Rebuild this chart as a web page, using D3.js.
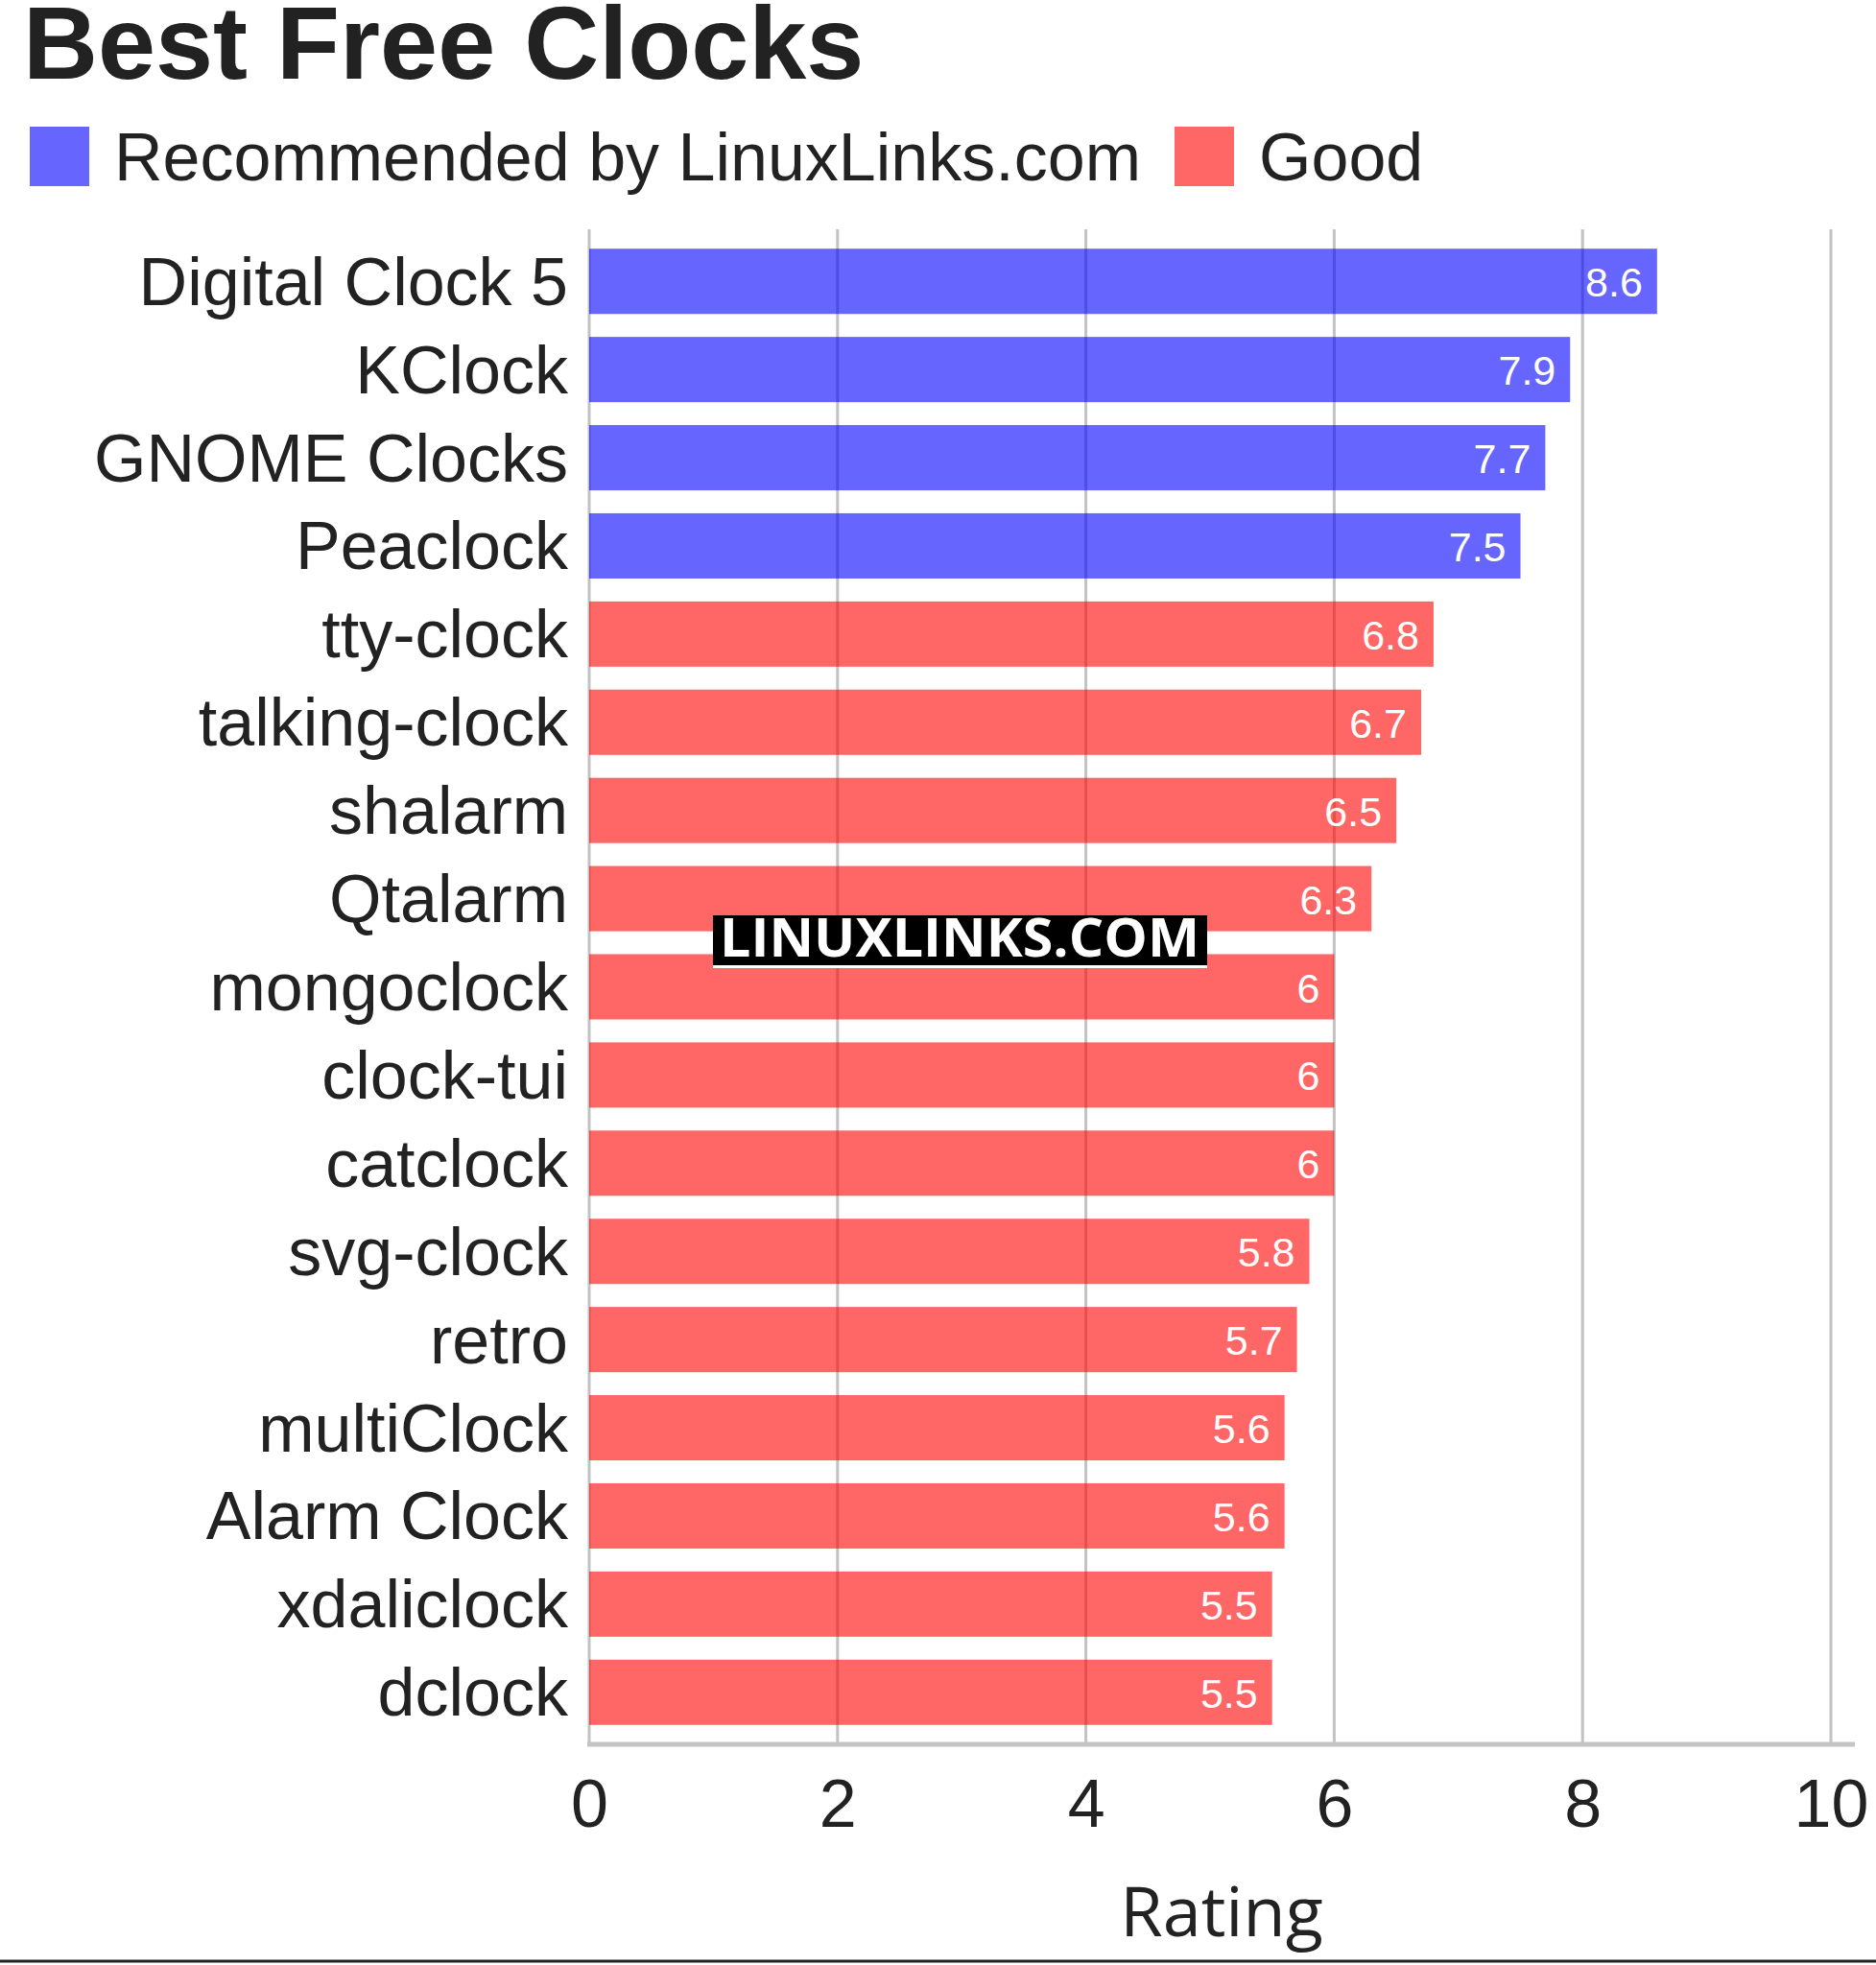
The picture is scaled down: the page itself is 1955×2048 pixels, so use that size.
<!DOCTYPE html>
<html><head><meta charset="utf-8">
<script src="https://cdn.jsdelivr.net/npm/d3@7"></script>
<style>
html,body{margin:0;padding:0;background:#fff;}
svg{display:block;}
</style></head>
<body>
<script>
const categories = ["Digital Clock 5","KClock","GNOME Clocks","Peaclock","tty-clock","talking-clock","shalarm","Qtalarm","mongoclock","clock-tui","catclock","svg-clock","retro","multiClock","Alarm Clock","xdaliclock","dclock"];
const ratings = [8.6,7.9,7.7,7.5,6.8,6.7,6.5,6.3,6,6,6,5.8,5.7,5.6,5.6,5.5,5.5];
const groups = ["Recommended","Recommended","Recommended","Recommended","Good","Good","Good","Good","Good","Good","Good","Good","Good","Good","Good","Good","Good"];
const seriesNames = ["Recommended by LinuxLinks.com","Good"];
const seriesKeys = ["Recommended","Good"];
const seriesColors = ["#6666ff","#ff6666"];
const barColors = ["rgba(0,0,255,0.6)","rgba(255,0,0,0.6)"];
const xTicks = [0,2,4,6,8,10];
const title = "Best Free Clocks";
const xTitle = "Rating";

const W = 1955, H = 2048;
const svg = d3.select("body").append("svg").attr("width", W).attr("height", H);
const font = "'Liberation Sans', Arial, sans-serif";

svg.append("rect").attr("width", W).attr("height", H).attr("fill", "#fff");

// title
svg.append("text").attr("x", 24).attr("y", 82)
  .attr("font-family", font).attr("font-weight", "bold").attr("font-size", 108)
  .attr("fill", "#222").text(title);

// legend
const color = d3.scaleOrdinal().domain(seriesKeys).range(seriesColors);
const barColor = d3.scaleOrdinal().domain(seriesKeys).range(barColors);
const legendX = [31, 1224];
seriesKeys.forEach((k, i) => {
  svg.append("rect").attr("x", legendX[i]).attr("y", 132).attr("width", 62).attr("height", 62)
    .attr("fill", color(k));
  svg.append("text").attr("x", legendX[i] + 88).attr("y", 188)
    .attr("font-family", font).attr("font-size", 70).attr("fill", "#222").text(seriesNames[i]);
});

const x = d3.scaleLinear().domain([0, 10]).range([614, 1908]);
const y = d3.scaleBand().domain(categories).range([239, 1818]).paddingInner(0.26).paddingOuter(0.22);

// gridlines
svg.append("g").selectAll("line").data(xTicks).join("line")
  .attr("x1", d => x(d)).attr("x2", d => x(d)).attr("y1", 239).attr("y2", 1818)
  .attr("stroke", "#c2c2c2").attr("stroke-width", 3);

// bars (semi-transparent so gridlines show through)
svg.append("g").selectAll("rect").data(categories).join("rect")
  .attr("x", x(0)).attr("y", d => y(d))
  .attr("width", (d, i) => x(ratings[i]) - x(0)).attr("height", y.bandwidth())
  .attr("fill", (d, i) => barColor(groups[i]));

// axis baseline
svg.append("line").attr("x1", 612).attr("x2", 1933).attr("y1", 1818).attr("y2", 1818)
  .attr("stroke", "#c4c4c4").attr("stroke-width", 5);

// x axis tick labels via d3 axis
const xAxis = svg.append("g").attr("transform", "translate(0,1818)")
  .call(d3.axisBottom(x).tickValues(xTicks).tickSize(0).tickPadding(86).tickFormat(d3.format("d")));
xAxis.select(".domain").remove();
xAxis.selectAll("text").attr("font-family", font).attr("font-size", 70).attr("fill", "#222").attr("dy", 0);

// y labels via d3 axis
const yAxis = svg.append("g").attr("transform", "translate(614,0)")
  .call(d3.axisLeft(y).tickSize(0).tickPadding(22));
yAxis.select(".domain").remove();
yAxis.selectAll("text").attr("font-family", font).attr("font-size", 70).attr("fill", "#222").attr("dy", "0.35em");

// value labels
svg.append("g").selectAll("text").data(categories).join("text")
  .attr("x", (d, i) => x(ratings[i]) - 15)
  .attr("y", d => y(d) + y.bandwidth() / 2 + 16)
  .attr("text-anchor", "end").attr("font-family", font).attr("font-size", 43).attr("fill", "#fff")
  .text((d, i) => ratings[i]);

// axis title
svg.append("text").attr("x", 1273).attr("y", 2018).attr("text-anchor", "middle")
  .attr("font-family", "'Open Sans', 'Noto Sans', sans-serif").attr("font-size", 72).attr("fill", "#222")
  .text(xTitle);

// bottom border line
svg.append("line").attr("x1", 0).attr("x2", W).attr("y1", 2044).attr("y2", 2044)
  .attr("stroke", "#222").attr("stroke-width", 3);

// watermark
const wm = svg.append("g");
wm.append("rect").attr("x", 743).attr("y", 954).attr("width", 515).attr("height", 53).attr("fill", "#000");
wm.append("rect").attr("x", 743).attr("y", 1006).attr("width", 515).attr("height", 3).attr("fill", "#fff");
wm.append("text").attr("x", 1000).attr("y", 997).attr("text-anchor", "middle")
  .attr("font-family", "'Open Sans', 'Noto Sans', sans-serif").attr("font-weight", "bold").attr("font-size", 56)
  .attr("fill", "#fff").attr("textLength", 500).attr("lengthAdjust", "spacingAndGlyphs")
  .text("LINUXLINKS.COM");
</script>
</body></html>
